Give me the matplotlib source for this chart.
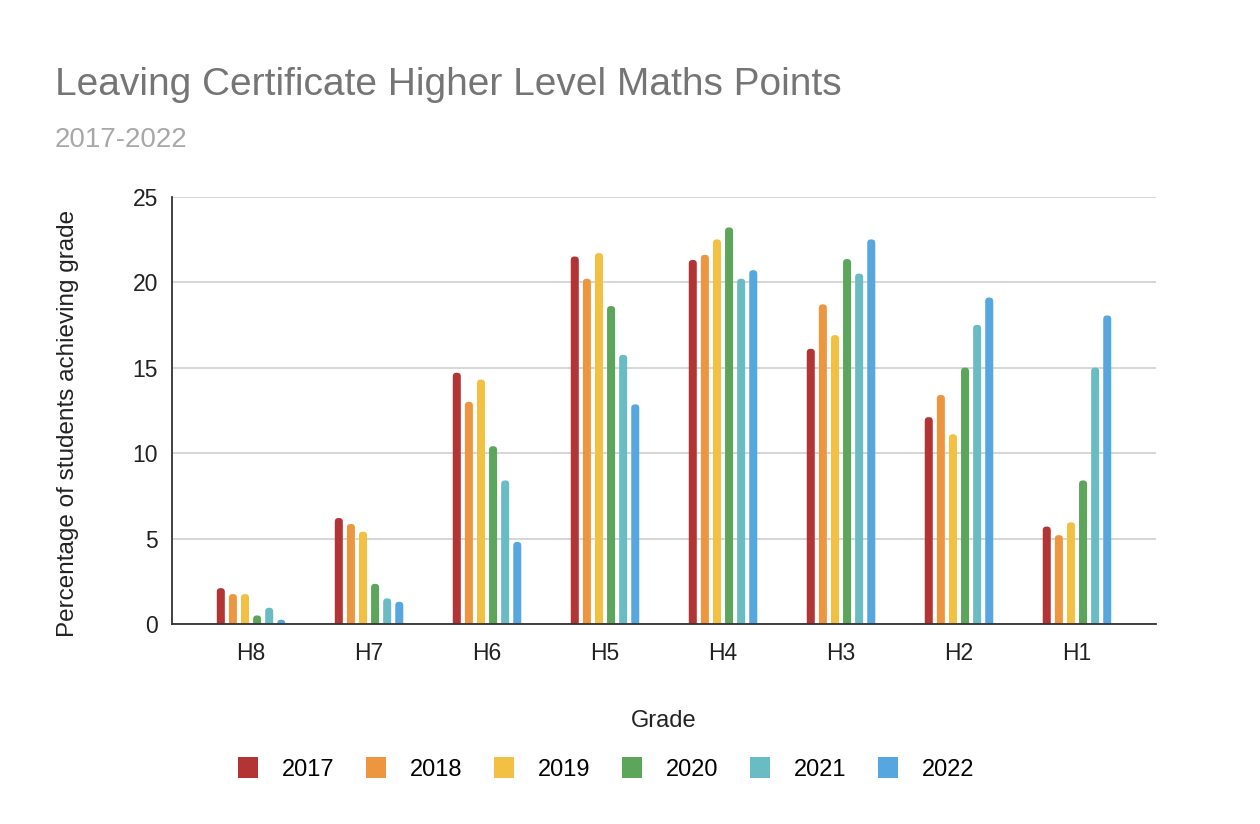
import numpy as np
import matplotlib
matplotlib.use("Agg")
import matplotlib.pyplot as plt
from matplotlib.patches import FancyBboxPatch, Patch

plt.rcParams['font.family'] = ['Liberation Sans', 'DejaVu Sans']

grades = ["H8", "H7", "H6", "H5", "H4", "H3", "H2", "H1"]
years = ["2017", "2018", "2019", "2020", "2021", "2022"]

# percentage of students per grade, one list per year
y2017 = [2.1, 6.2, 14.7, 21.5, 21.3, 16.1, 12.1, 5.7]
y2018 = [1.75, 5.85, 13.0, 20.2, 21.6, 18.7, 13.4, 5.2]
y2019 = [1.75, 5.4, 14.3, 21.7, 22.5, 16.9, 11.1, 5.95]
y2020 = [0.5, 2.35, 10.4, 18.6, 23.2, 21.35, 15.0, 8.4]
y2021 = [0.95, 1.5, 8.4, 15.75, 20.2, 20.5, 17.5, 15.0]
y2022 = [0.25, 1.3, 4.8, 12.85, 20.7, 22.5, 19.1, 18.05]

series = [y2017, y2018, y2019, y2020, y2021, y2022]
colors = ["#B33435", "#EC963F", "#F2C042", "#5BA65A", "#6ABCC4", "#56A7DF"]

fig = plt.figure(figsize=(12.6, 8.24), dpi=100)
ax = fig.add_axes([0.1365, 0.2427, 0.781, 0.5186])

xmin, xmax = -0.67, len(grades) - 1 + 0.67
ax.set_xlim(xmin, xmax)
ax.set_ylim(0, 25)

# ratio of y data units to x data units per pixel, for round bar tops
bb = ax.get_position()
aspect = (25 / (bb.height * 824)) / ((xmax - xmin) / (bb.width * 1260))

x = np.arange(len(grades))
step = 0.1025
bw = 0.068
rad = bw * 0.45
for i, (vals, col) in enumerate(zip(series, colors)):
    bars = ax.bar(x + (i - 2.5) * step, vals, width=bw, color=col, zorder=3)
    for rect in bars:
        rect.set_visible(False)
        ext = rad * aspect
        fb = FancyBboxPatch((rect.get_x(), -ext), rect.get_width(), rect.get_height() + ext,
                            boxstyle="round,pad=0,rounding_size=%f" % rad,
                            mutation_aspect=aspect, facecolor=col, edgecolor="none", zorder=3)
        ax.add_patch(fb)

ax.set_yticks([0, 5, 10, 15, 20, 25])
ax.set_xticks(x)
ax.set_xticklabels(grades)
ax.tick_params(axis='both', length=0, labelsize=16.5, colors="#222222")
ax.tick_params(axis='x', pad=13)
ax.tick_params(axis='y', pad=10)
ax.grid(axis='y', color="#d0d0d0", linewidth=1.2, zorder=0)

for s in ["top", "right"]:
    ax.spines[s].set_visible(False)
ax.spines["left"].set_color("#333333")
ax.spines["bottom"].set_color("#333333")
ax.spines["left"].set_linewidth(1.3)
ax.spines["bottom"].set_linewidth(1.3)
ax.spines["bottom"].set_zorder(4)

ax.set_ylabel("Percentage of students achieving grade", fontsize=17.5, color="#222222")
ax.yaxis.set_label_coords(-0.0945, 0.47)
ax.set_xlabel("Grade", fontsize=17, color="#222222", labelpad=32)

fig.text(0.0437, 0.897, "Leaving Certificate Higher Level Maths Points",
         fontsize=28, color="#757575", va="center", ha="left")
fig.text(0.0437, 0.830, "2017-2022", fontsize=20, color="#a8a8a8", va="center", ha="left")

handles = [Patch(facecolor=c, label=y) for c, y in zip(colors, years)]
fig.legend(handles=handles, loc="center", bbox_to_anchor=(0.481, 0.0667), ncol=6, frameon=False,
           fontsize=17, handlelength=0.85, handleheight=0.95, handletextpad=1.0,
           columnspacing=1.35)

fig.savefig("out.png", dpi=100)
